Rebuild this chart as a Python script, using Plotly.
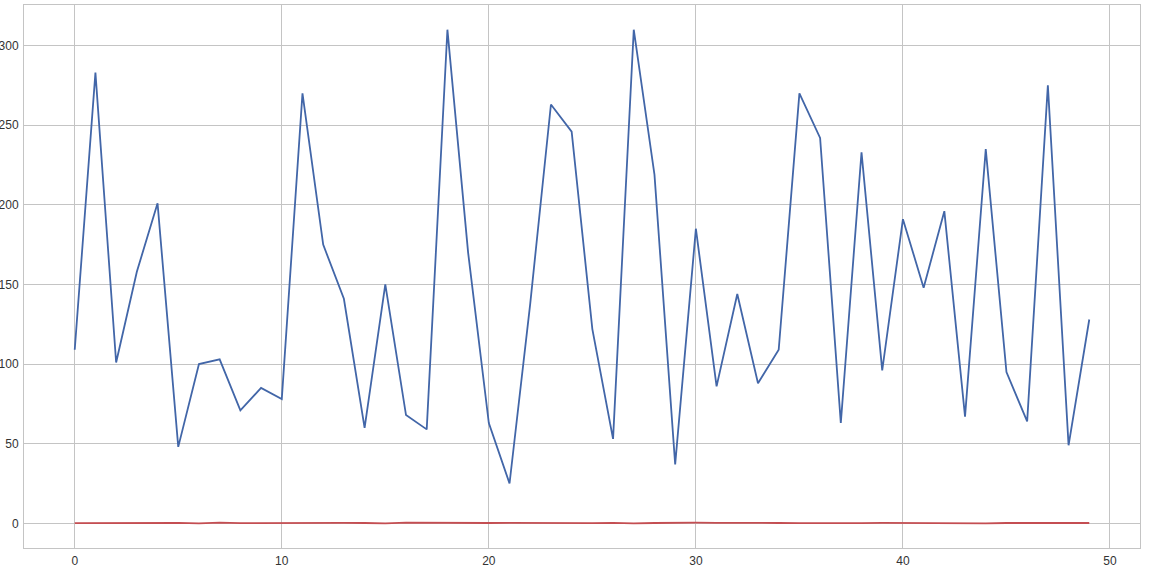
import plotly.graph_objects as go

x_values = list(range(50))
blue_values = [109, 283, 101, 158, 201, 48, 100, 103, 71, 85,
               78, 270, 175, 141, 60, 150, 68, 59, 310, 170,
               63, 25, 138, 263, 246, 122, 53, 310, 219, 37,
               185, 86, 144, 88, 109, 270, 242, 63, 233, 96,
               191, 148, 196, 67, 235, 95, 64, 275, 49, 128]
red_values = [0.1, 0.2, 0.3, 0.4, 0.2, 0.3, 0.0, 0.4, 0.1, 0.2,
              0.3, 0.3, 0.2, 0.3, 0.2, 0.0, 0.4, 0.3, 0.0, 0.1,
              0.2, 0.3, 0.2, 0.1, 0.2, 0.1, 0.3, 0.0, 0.2, 0.4,
              0.4, 0.3, 0.4, 0.2, 0.2, 0.1, 0.0, 0.3, 0.1, 0.3,
              0.2, 0.2, 0.1, 0.1, 0.0, 0.2, 0.2, 0.0, 0.3, 0.2]
x_ticks = [0, 10, 20, 30, 40, 50]
y_ticks = [0, 50, 100, 150, 200, 250, 300]

fig = go.Figure()
fig.add_trace(go.Scatter(x=x_values, y=blue_values, mode="lines",
                         line=dict(color="#4266a8", width=1.8), showlegend=False))
fig.add_trace(go.Scatter(x=x_values, y=red_values, mode="lines",
                         line=dict(color="#c44e52", width=1.8), showlegend=False))

grid = "#c4c4c4"
fig.update_layout(
    width=1154, height=586,
    margin=dict(l=24, r=14, t=5, b=38, autoexpand=False),
    paper_bgcolor="white", plot_bgcolor="white",
    font=dict(family="Liberation Sans, Arial, sans-serif", size=12, color="#333333"),
)
fig.update_xaxes(range=[-2.45, 51.45], tickvals=x_ticks, ticktext=[str(v) for v in x_ticks],
                 showgrid=True, gridcolor=grid, gridwidth=1, zeroline=False,
                 showline=True, linecolor=grid, linewidth=1, mirror=True,
                 ticks="", ticklabelstandoff=2, automargin=False)
fig.update_yaxes(range=[-15.5, 325.5], tickvals=y_ticks, ticktext=[str(v) for v in y_ticks],
                 showgrid=True, gridcolor=grid, gridwidth=1, zeroline=False,
                 showline=True, linecolor=grid, linewidth=1, mirror=True,
                 ticks="", ticklabelstandoff=2, automargin=False)

fig.write_html("out.html", config={"displayModeBar": False},
               post_script="document.body.style.margin='0';document.body.style.padding='0';")
